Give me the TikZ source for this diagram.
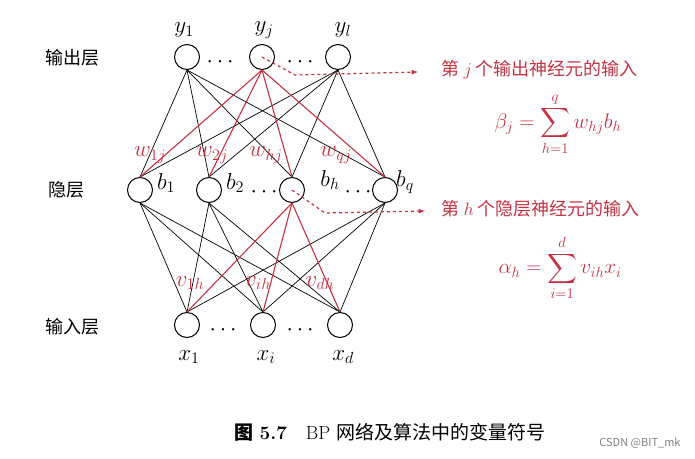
\RequirePackage{fix-cm}
\documentclass[tikz,border=0pt]{standalone}
\usepackage{amsmath}
\usepackage{fontspec}
\newfontfamily\cjk{Noto Sans CJK SC}
\definecolor{rd}{RGB}{196,50,66}
\newcommand\fs[1]{\fontsize{#1}{#1}\selectfont}
\begin{document}
\begin{tikzpicture}[x=1pt,y=-1pt,
  neu/.style={circle,draw,line width=1pt,minimum size=25pt,inner sep=0pt},
  wl/.style={text=rd,font=\fs{23},inner sep=0.5pt},
  ml/.style={font=\fs{23}},
  cl/.style={font=\fs{18}\cjk},
  ed/.style={line width=0.7pt},
  re/.style={line width=1.1pt,rd},
  da/.style={rd,dashed,line width=1.2pt,-latex}]
\useasboundingbox (0,0) rectangle (695,458);
\node[neu] (y1) at (187,57) {}; \node[neu] (yj) at (262,57) {}; \node[neu] (yl) at (338,57) {};
\node[neu] (b1) at (140,190) {}; \node[neu] (b2) at (209,190) {}; \node[neu] (bh) at (292,190) {}; \node[neu] (bq) at (385,190) {};
\node[neu] (x1) at (187,325) {}; \node[neu] (xi) at (263,325) {}; \node[neu] (xd) at (340,325) {};
\foreach \u in {y1,yl} \foreach \v in {b1,b2,bh,bq} \draw[ed] (\u.south) -- (\v.north);
\foreach \v in {b1,b2,bq} \foreach \u in {x1,xi,xd} \draw[ed] (\v.south) -- (\u.north);
\foreach \v in {b1,b2,bh,bq} \draw[re] (yj.south) -- (\v.north);
\foreach \u in {x1,xi,xd} \draw[re] (bh.south) -- (\u.north);
\node[wl] (w1) at (150,155) {$w_{1j}$}; \node[wl] (w2) at (212,155) {$w_{2j}$};
\node[wl] (wh) at (266,155) {$w_{hj}$}; \node[wl] (wq) at (336,155) {$w_{qj}$};
\node[wl] (v1) at (190,283) {$v_{1h}$}; \node[wl] (vi) at (258,283) {$v_{ih}$}; \node[wl] (vd) at (320,283) {$v_{dh}$};
\node[ml] (ly1) at (184,30) {$y_1$}; \node[ml] (lyj) at (264,30) {$y_j$}; \node[ml] (lyl) at (343,30) {$y_l$};
\node[ml] (d1) at (222,62) {$\cdots$}; \node[ml] (d2) at (302,62) {$\cdots$};
\node[ml] (lb1) at (166,183) {$b_1$}; \node[ml] (lb2) at (235,183) {$b_2$}; \node[ml] (d3) at (266,192) {$\cdots$};
\node[ml] (lbh) at (330,180) {$b_h$}; \node[ml] (d4) at (360,192) {$\cdots$}; \node[ml] (lbq) at (405,182) {$b_q$};
\node[ml] (d5) at (225,330) {$\cdots$}; \node[ml] (d6) at (302,330) {$\cdots$};
\node[ml] (lx1) at (189,357) {$x_1$}; \node[ml] (lxi) at (266,357) {$x_i$}; \node[ml] (lxd) at (343,357) {$x_d$};
\node[cl] (lo) at (72,58) {输出层}; \node[cl] (lh) at (66,190) {隐层}; \node[cl] (li) at (72,327) {输入层};
\coordinate (k1) at (295,75); \coordinate (e1) at (418,72);
\coordinate (k2) at (325,213); \coordinate (e2) at (425,211);
\draw[da] (yj.center) -- (k1) -- (e1);
\draw[da] (bh.center) -- (k2) -- (e2);
\node[cl,text=rd,anchor=west] (t1) at (438,70) {第 $j$ 个输出神经元的输入};
\node[cl,text=rd,anchor=west] (t2) at (438,209) {第 $h$ 个隐层神经元的输入};
\node[text=rd,font=\fs{21}] (f1) at (558,124) {$\displaystyle\beta_j=\sum_{h=1}^{q} w_{hj}b_h$};
\node[text=rd,font=\fs{21}] (f2) at (560,268) {$\displaystyle\alpha_h=\sum_{i=1}^{d} v_{ih}x_i$};
\node[font=\fs{19}] (cap) at (390,432) {{\cjk\bfseries 图} \textbf{5.7}\quad BP {\cjk 网络及算法中的变量符号}};
\node[font=\fs{11}\cjk,text=gray] (wm) at (640,443) {CSDN @BIT\_mk};
\end{tikzpicture}
\end{document}
